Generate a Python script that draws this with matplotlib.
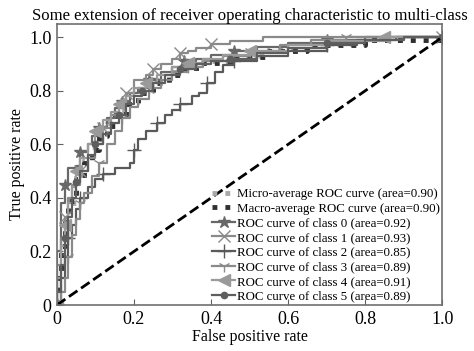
import matplotlib
matplotlib.use("Agg")
import matplotlib.pyplot as plt
from matplotlib.ticker import FuncFormatter

plt.rcParams['font.family'] = ['Liberation Serif', 'DejaVu Serif']

title = "Some extension of receiver operating characteristic to multi-class"

micro_fpr = [0, 0, 0.01, 0.02, 0.03, 0.05, 0.07, 0.09, 0.11, 0.13, 0.15, 0.18, 0.21, 0.25, 0.29, 0.33, 0.38, 0.45, 0.55, 0.65, 0.80, 1.0]
micro_tpr = [0, 0.10, 0.20, 0.30, 0.38, 0.46, 0.54, 0.59, 0.64, 0.68, 0.72, 0.76, 0.80, 0.84, 0.87, 0.89, 0.91, 0.93, 0.955, 0.975, 0.99, 1.0]
macro_fpr = [0, 0, 0.01, 0.02, 0.03, 0.05, 0.07, 0.09, 0.11, 0.13, 0.15, 0.18, 0.21, 0.25, 0.29, 0.33, 0.38, 0.45, 0.55, 0.65, 0.80, 1.0]
macro_tpr = [0, 0.10, 0.22, 0.31, 0.39, 0.47, 0.53, 0.58, 0.63, 0.67, 0.71, 0.75, 0.79, 0.83, 0.86, 0.885, 0.905, 0.925, 0.95, 0.97, 0.99, 1.0]

c0_fpr = [0, 0, 0.01, 0.02, 0.03, 0.05, 0.06, 0.08, 0.09, 0.11, 0.13, 0.15, 0.17, 0.19, 0.21, 0.24, 0.27, 0.30, 0.33, 0.36, 0.40, 0.46, 0.52, 0.60, 0.70, 0.80, 1.0]
c0_tpr = [0, 0.20, 0.38, 0.45, 0.51, 0.52, 0.57, 0.60, 0.63, 0.66, 0.70, 0.735, 0.76, 0.79, 0.81, 0.84, 0.87, 0.89, 0.91, 0.92, 0.935, 0.95, 0.965, 0.98, 0.99, 1.0, 1.0]
c1_fpr = [0, 0, 0.01, 0.02, 0.03, 0.04, 0.06, 0.08, 0.10, 0.12, 0.14, 0.16, 0.18, 0.20, 0.23, 0.25, 0.27, 0.30, 0.32, 0.34, 0.36, 0.40, 0.45, 0.535, 1.0]
c1_tpr = [0, 0.15, 0.25, 0.33, 0.40, 0.45, 0.50, 0.55, 0.60, 0.66, 0.71, 0.75, 0.79, 0.84, 0.86, 0.88, 0.90, 0.92, 0.94, 0.95, 0.96, 0.975, 0.985, 1.0, 1.0]
c2_fpr = [0, 0.01, 0.02, 0.03, 0.04, 0.05, 0.06, 0.08, 0.10, 0.12, 0.15, 0.19, 0.20, 0.21, 0.23, 0.26, 0.28, 0.30, 0.32, 0.35, 0.37, 0.39, 0.41, 0.43, 0.46, 0.52, 0.60, 0.70, 0.78, 0.88, 1.0]
c2_tpr = [0, 0.10, 0.18, 0.25, 0.30, 0.36, 0.40, 0.44, 0.47, 0.49, 0.51, 0.53, 0.58, 0.62, 0.65, 0.68, 0.71, 0.73, 0.75, 0.78, 0.79, 0.83, 0.87, 0.895, 0.91, 0.93, 0.95, 0.97, 0.99, 1.0, 1.0]
c3_fpr = [0, 0.01, 0.02, 0.03, 0.04, 0.05, 0.06, 0.07, 0.09, 0.11, 0.13, 0.15, 0.17, 0.19, 0.21, 0.24, 0.27, 0.30, 0.34, 0.38, 0.43, 0.50, 0.58, 0.66, 0.75, 1.0]
c3_tpr = [0, 0.05, 0.10, 0.18, 0.26, 0.32, 0.38, 0.42, 0.48, 0.53, 0.60, 0.65, 0.70, 0.74, 0.77, 0.81, 0.84, 0.87, 0.89, 0.91, 0.93, 0.95, 0.97, 0.99, 1.0, 1.0]
c4_fpr = [0, 0, 0.01, 0.02, 0.03, 0.04, 0.05, 0.06, 0.08, 0.10, 0.12, 0.14, 0.16, 0.18, 0.20, 0.23, 0.26, 0.30, 0.34, 0.38, 0.43, 0.50, 0.60, 0.70, 0.85, 1.0]
c4_tpr = [0, 0.10, 0.22, 0.30, 0.38, 0.44, 0.50, 0.55, 0.60, 0.65, 0.69, 0.72, 0.75, 0.78, 0.81, 0.83, 0.86, 0.89, 0.905, 0.92, 0.935, 0.95, 0.97, 0.985, 1.0, 1.0]
c5_fpr = [0, 0, 0.01, 0.02, 0.03, 0.04, 0.05, 0.06, 0.08, 0.10, 0.12, 0.14, 0.16, 0.18, 0.20, 0.22, 0.25, 0.28, 0.32, 0.36, 0.40, 0.45, 0.52, 0.60, 0.70, 0.80, 0.90, 1.0]
c5_tpr = [0, 0.05, 0.15, 0.25, 0.33, 0.40, 0.46, 0.50, 0.56, 0.60, 0.64, 0.68, 0.71, 0.75, 0.78, 0.80, 0.83, 0.86, 0.88, 0.90, 0.91, 0.92, 0.94, 0.96, 0.98, 0.99, 1.0, 1.0]

class_aucs = [0.92, 0.93, 0.85, 0.89, 0.91, 0.89]
micro_auc = 0.90
macro_auc = 0.90

fig = plt.figure(figsize=(4.74, 3.51), dpi=100)
ax = fig.add_axes([0.120, 0.131, 0.813, 0.801])

ax.plot(micro_fpr, micro_tpr, drawstyle='steps-post', color='#a8a8a8', linestyle=':', linewidth=3.5,
        label=f'Micro-average ROC curve (area={micro_auc:.2f})')
ax.plot(macro_fpr, macro_tpr, drawstyle='steps-post', color='#303030', linestyle=':', linewidth=3.5,
        label=f'Macro-average ROC curve (area={macro_auc:.2f})')

curves = [(c0_fpr, c0_tpr), (c1_fpr, c1_tpr), (c2_fpr, c2_tpr), (c3_fpr, c3_tpr), (c4_fpr, c4_tpr), (c5_fpr, c5_tpr)]
markers = ['*', 'x', '+', '1', '<', 'o']
msizes = [9, 9, 10, 9, 9, 4.5]
colors = ['#686868', '#8a8a8a', '#5a5a5a', '#8a8a8a', '#9a9a9a', '#5e5e5e']
for i, (f, t) in enumerate(curves):
    ax.plot(f, t, drawstyle='steps-post', color=colors[i], linewidth=1.6,
            marker=markers[i], markersize=msizes[i], markevery=3,
            label=f'ROC curve of class {i} (area={class_aucs[i]:.2f})')

ax.plot([0, 1], [0, 1], 'k--', linewidth=2)

ax.set_xlim(0, 1.0)
ax.set_ylim(0, 1.05)
ax.set_xticks([0, 0.2, 0.4, 0.6, 0.8, 1.0])
ax.set_yticks([0, 0.2, 0.4, 0.6, 0.8, 1.0])
fmt = FuncFormatter(lambda v, p: '0' if abs(v) < 1e-9 else f'{v:.1f}')
ax.xaxis.set_major_formatter(fmt)
ax.yaxis.set_major_formatter(fmt)
ax.tick_params(direction='in', length=4, labelsize=13, color='#606060', pad=4)
for s in ax.spines.values():
    s.set_color('#707070')
    s.set_linewidth(1.2)

ax.set_xlabel('False positive rate', fontsize=11.5, labelpad=1)
ax.set_ylabel('True positive rate', fontsize=11.5, labelpad=3)
ax.set_title(title, fontsize=12, pad=3)

ax.legend(loc='lower right', fontsize=9.3, frameon=False, handlelength=1.8, handletextpad=0.1,
          labelspacing=0.2, borderaxespad=0.1, borderpad=0.1)

fig.savefig('out.png', dpi=100)
